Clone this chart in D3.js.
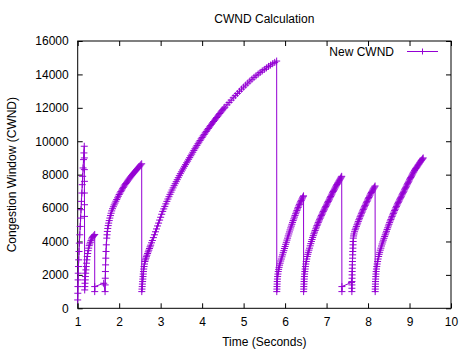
<!DOCTYPE html>
<html>
<head>
<meta charset="utf-8">
<script src="https://cdn.jsdelivr.net/npm/d3@7"></script>
<style>
body { margin: 0; background: #fff; }
text { font-family: "Liberation Sans", Arial, sans-serif; font-size: 12px; fill: #000; }
</style>
</head>
<body>
<div id="chart"></div>
<script>
// cwnd samples [time (s), cwnd], one array per congestion epoch
var slowStart = [[1.000,500],[1.003,900],[1.006,1300],[1.010,1700],[1.014,2100],[1.018,2500],[1.024,2900],
    [1.032,3400],[1.040,3900],[1.050,4400],[1.060,4900],[1.070,5400],[1.080,5900],[1.090,6400],[1.100,6900],
    [1.110,7400],[1.120,7900],[1.130,8400],[1.140,8900],[1.150,9300],[1.158,9700],[1.160,9000],[1.160,8300],
    [1.162,7600],[1.162,6900],[1.164,6200],[1.164,5500]];
var epoch2 = [[1.169,1100],[1.172,1300],[1.176,1500],[1.181,1700],[1.186,1900],[1.192,2100],[1.198,2300],
    [1.205,2500],[1.212,2700],[1.221,2900],[1.230,3100],[1.241,3280],[1.252,3450],[1.265,3600],[1.278,3750],
    [1.291,3850],[1.305,3950],[1.320,4050],[1.335,4150],[1.352,4230],[1.370,4300],[1.390,4360],[1.410,4420],
    [1.410,1000],[1.410,1300]];
var epoch3 = [[1.627,1500],[1.660,1000],[1.662,1400],[1.665,1800],[1.668,2200],[1.672,2600],[1.677,3000],
    [1.683,3400],[1.690,3800],[1.700,4200],[1.707,4400],[1.715,4600],[1.725,4780],[1.735,4950],[1.747,5100],
    [1.760,5250],[1.775,5400],[1.790,5550],[1.805,5690],[1.820,5830],[1.840,5960],[1.860,6080],[1.880,6190],
    [1.900,6300],[1.920,6410],[1.940,6510],[1.960,6610],[1.980,6710],[2.000,6810],[2.020,6900],[2.040,6985],
    [2.060,7070],[2.080,7155],[2.100,7240],[2.120,7320],[2.140,7400],[2.160,7470],[2.180,7540],[2.200,7610],
    [2.220,7680],[2.240,7745],[2.260,7810],[2.280,7875],[2.300,7940],[2.320,8000],[2.340,8060],[2.360,8120],
    [2.380,8180],[2.400,8240],[2.420,8300],[2.440,8355],[2.460,8410],[2.480,8470],[2.500,8530],[2.520,8590],
    [2.543,8650]];
var epoch4 = [[2.545,1000],[2.550,1150],[2.555,1300],[2.560,1450],[2.565,1600],[2.570,1750],[2.575,1900],
    [2.580,2050],[2.585,2200],[2.592,2350],[2.600,2500],[2.610,2650],[2.620,2800],[2.632,2900],[2.645,3000],
    [2.657,3090],[2.670,3180],[2.685,3280],[2.700,3380],[2.715,3480],[2.730,3580],[2.745,3680],[2.760,3780],
    [2.780,3920],[2.800,4060],[2.825,4230],[2.850,4400],[2.875,4580],[2.900,4750],[2.925,4930],[2.950,5100],
    [2.975,5280],[3.000,5450],[3.025,5630],[3.050,5800],[3.075,5950],[3.100,6100],[3.125,6250],[3.150,6400],
    [3.175,6540],[3.200,6680],[3.225,6820],[3.250,6950],[3.275,7080],[3.300,7210],[3.325,7340],[3.350,7460],
    [3.375,7580],[3.400,7700],[3.425,7820],[3.450,7940],[3.475,8060],[3.500,8170],[3.525,8280],[3.550,8390],
    [3.575,8500],[3.600,8600],[3.625,8710],[3.650,8810],[3.675,8920],[3.700,9020],[3.725,9130],[3.750,9230],
    [3.775,9340],[3.800,9450],[3.825,9550],[3.850,9650],[3.875,9750],[3.900,9850],[3.925,9950],[3.950,10040],
    [3.975,10140],[4.000,10230],[4.025,10320],[4.050,10410],[4.075,10500],[4.100,10590],[4.125,10680],
    [4.150,10760],[4.175,10850],[4.200,10930],[4.225,11020],[4.250,11100],[4.275,11180],[4.300,11260],
    [4.325,11340],[4.350,11420],[4.375,11500],[4.400,11580],[4.425,11660],[4.450,11740],[4.475,11820],
    [4.500,11890],[4.525,11970],[4.550,12040],[4.600,12180],[4.650,12320],[4.700,12460],[4.750,12600],
    [4.800,12730],[4.850,12860],[4.900,12990],[4.950,13120],[5.000,13240],[5.050,13360],[5.100,13480],
    [5.150,13600],[5.200,13710],[5.250,13820],[5.300,13920],[5.350,14020],[5.400,14120],[5.450,14210],
    [5.500,14300],[5.550,14390],[5.600,14480],[5.650,14560],[5.700,14640],[5.750,14720],[5.797,14800]];
var epoch5 = [[5.800,1000],[5.803,1150],[5.805,1300],[5.808,1450],[5.810,1600],[5.815,1750],[5.820,1900],
    [5.827,2050],[5.835,2200],[5.845,2330],[5.855,2450],[5.867,2580],[5.880,2700],[5.895,2830],[5.910,2950],
    [5.925,3080],[5.940,3200],[5.955,3330],[5.970,3450],[5.985,3580],[6.000,3700],[6.015,3830],[6.030,3950],
    [6.045,4080],[6.060,4200],[6.075,4330],[6.090,4450],[6.105,4570],[6.120,4690],[6.135,4810],[6.150,4920],
    [6.165,5030],[6.180,5140],[6.195,5250],[6.210,5350],[6.225,5460],[6.240,5560],[6.255,5660],[6.270,5760],
    [6.285,5860],[6.300,5950],[6.315,6040],[6.330,6130],[6.345,6220],[6.360,6300],[6.375,6380],[6.390,6460],
    [6.405,6540],[6.420,6610],[6.435,6680],[6.445,6730]];
var epoch6 = [[6.447,1000],[6.450,1150],[6.452,1300],[6.455,1450],[6.458,1600],[6.462,1750],[6.466,1900],
    [6.471,2050],[6.476,2200],[6.483,2350],[6.490,2500],[6.500,2650],[6.510,2800],[6.522,2950],[6.535,3100],
    [6.547,3230],[6.560,3350],[6.575,3480],[6.590,3600],[6.605,3740],[6.620,3870],[6.635,4000],[6.650,4120],
    [6.665,4240],[6.680,4350],[6.695,4460],[6.710,4560],[6.725,4660],[6.740,4760],[6.755,4860],[6.770,4950],
    [6.785,5040],[6.800,5130],[6.815,5220],[6.830,5300],[6.845,5390],[6.860,5470],[6.875,5550],[6.890,5630],
    [6.905,5710],[6.920,5790],[6.935,5870],[6.950,5940],[6.965,6020],[6.980,6090],[6.995,6170],[7.010,6240],
    [7.025,6320],[7.040,6390],[7.055,6470],[7.070,6540],[7.085,6620],[7.100,6690],[7.115,6770],[7.130,6840],
    [7.145,6920],[7.160,6990],[7.175,7060],[7.190,7130],[7.205,7200],[7.220,7270],[7.235,7340],[7.250,7410],
    [7.265,7480],[7.280,7540],[7.295,7610],[7.310,7670],[7.325,7730],[7.340,7790],[7.352,7850],[7.365,7900],
    [7.370,1000],[7.370,1300]];
var epoch7 = [[7.600,1550],[7.610,1000],[7.611,1200],[7.612,1400],[7.613,1600],[7.615,1800],[7.616,2000],
    [7.618,2200],[7.620,2400],[7.622,2600],[7.624,2800],[7.627,3000],[7.629,3200],[7.632,3400],[7.635,3600],
    [7.638,3800],[7.641,4000],[7.645,4200],[7.652,4330],[7.660,4450],[7.675,4580],[7.690,4700],[7.705,4800],
    [7.720,4900],[7.735,5000],[7.750,5100],[7.765,5200],[7.780,5300],[7.795,5390],[7.810,5480],[7.825,5570],
    [7.840,5660],[7.855,5750],[7.870,5830],[7.885,5920],[7.900,6000],[7.915,6080],[7.930,6160],[7.945,6240],
    [7.960,6320],[7.975,6400],[7.990,6480],[8.005,6560],[8.020,6630],[8.035,6710],[8.050,6780],[8.065,6860],
    [8.080,6930],[8.095,7000],[8.110,7070],[8.125,7140],[8.140,7200],[8.155,7260],[8.170,7320]];
var epoch8 = [[8.172,1000],[8.174,1150],[8.176,1300],[8.178,1450],[8.180,1600],[8.183,1750],[8.186,1900],
    [8.190,2050],[8.195,2200],[8.202,2350],[8.210,2500],[8.220,2650],[8.230,2800],[8.242,2950],[8.255,3100],
    [8.267,3230],[8.280,3350],[8.295,3480],[8.310,3600],[8.325,3730],[8.340,3850],[8.355,3970],[8.370,4080],
    [8.385,4190],[8.400,4300],[8.415,4400],[8.430,4510],[8.445,4610],[8.460,4720],[8.475,4820],[8.490,4930],
    [8.505,5030],[8.520,5130],[8.535,5230],[8.550,5320],[8.565,5410],[8.580,5500],[8.595,5590],[8.610,5680],
    [8.625,5760],[8.640,5850],[8.655,5930],[8.670,6020],[8.685,6100],[8.700,6180],[8.715,6260],[8.730,6340],
    [8.745,6410],[8.760,6490],[8.775,6560],[8.790,6640],[8.805,6710],[8.820,6790],[8.835,6860],[8.850,6940],
    [8.865,7010],[8.880,7090],[8.895,7160],[8.910,7240],[8.925,7310],[8.940,7390],[8.955,7460],[8.970,7540],
    [8.985,7610],[9.000,7690],[9.015,7760],[9.030,7830],[9.045,7900],[9.060,7970],[9.075,8040],[9.090,8110],
    [9.105,8170],[9.120,8240],[9.135,8300],[9.150,8370],[9.165,8410],[9.180,8460],[9.195,8520],[9.210,8580],
    [9.225,8630],[9.240,8690],[9.255,8740],[9.270,8800],[9.285,8850],[9.300,8900],[9.315,8950],[9.330,9000]];

var xTicks = [1,2,3,4,5,6,7,8,9,10];
var yTicks = [0,2000,4000,6000,8000,10000,12000,14000,16000];
var seriesName = "New CWND";
var lineColor = "#9400d3";

var trace = slowStart.concat(epoch2, epoch3, epoch4, epoch5, epoch6, epoch7, epoch8);

var width = 474, height = 353;
var plotLeft = 77.7, plotRight = 451, plotTop = 41, plotBottom = 308.3;

var svg = d3.select("#chart").append("svg")
    .attr("width", width)
    .attr("height", height);

var x = d3.scaleLinear().domain([1, 10]).range([plotLeft, plotRight]);
var y = d3.scaleLinear().domain([0, 16000]).range([plotBottom, plotTop]);

// axes, ticks pointing inward like gnuplot
svg.append("g")
    .attr("transform", "translate(0," + plotBottom + ")")
    .call(d3.axisBottom(x).tickValues(xTicks).tickSize(-5).tickPadding(9).tickFormat(d3.format("d")));
svg.append("g")
    .attr("transform", "translate(0," + plotTop + ")")
    .call(d3.axisTop(x).tickValues(xTicks).tickSize(-5).tickFormat(""));
svg.append("g")
    .attr("transform", "translate(" + plotLeft + ",0)")
    .call(d3.axisLeft(y).tickValues(yTicks).tickSize(-5).tickPadding(9).tickFormat(d3.format("d")));
svg.append("g")
    .attr("transform", "translate(" + plotRight + ",0)")
    .call(d3.axisRight(y).tickValues(yTicks).tickSize(-5).tickFormat(""));

svg.selectAll(".domain").remove();
svg.selectAll(".tick line").attr("stroke", "#000");
svg.selectAll(".tick text").style("font-size", "12px").attr("fill", "#000");

svg.append("rect")
    .attr("x", plotLeft).attr("y", plotTop)
    .attr("width", plotRight - plotLeft).attr("height", plotBottom - plotTop)
    .attr("fill", "none").attr("stroke", "#000").attr("stroke-width", 1);

// the trace
var line = d3.line()
    .x(function(d){ return x(d[0]); })
    .y(function(d){ return y(d[1]); });

svg.append("path")
    .datum(trace)
    .attr("d", line)
    .attr("fill", "none")
    .attr("stroke", lineColor)
    .attr("stroke-width", 1);

var cross = "M-3.5,0H3.5M0,-3.5V3.5";
svg.selectAll(".pt")
    .data(trace)
    .enter()
    .append("path")
    .attr("class", "pt")
    .attr("d", cross)
    .attr("transform", function(d){ return "translate(" + x(d[0]) + "," + y(d[1]) + ")"; })
    .attr("fill", "none")
    .attr("stroke", lineColor)
    .attr("stroke-width", 1);

// titles
svg.append("text")
    .attr("x", (plotLeft + plotRight) / 2).attr("y", 23)
    .attr("text-anchor", "middle")
    .text("CWND Calculation");
svg.append("text")
    .attr("x", (plotLeft + plotRight) / 2).attr("y", 346)
    .attr("text-anchor", "middle")
    .text("Time (Seconds)");
svg.append("text")
    .attr("transform", "translate(16," + ((plotTop + plotBottom) / 2) + ") rotate(-90)")
    .attr("text-anchor", "middle")
    .text("Congestion Window (CWND)");

// legend
svg.append("text")
    .attr("x", 394).attr("y", 56)
    .attr("text-anchor", "end")
    .text(seriesName);
svg.append("line")
    .attr("x1", 407).attr("x2", 438)
    .attr("y1", 51.5).attr("y2", 51.5)
    .attr("stroke", lineColor);
svg.append("path")
    .attr("d", "M-3,0H3M0,-3V3")
    .attr("transform", "translate(422.5,51.5)")
    .attr("fill", "none")
    .attr("stroke", lineColor);
</script>
</body>
</html>
